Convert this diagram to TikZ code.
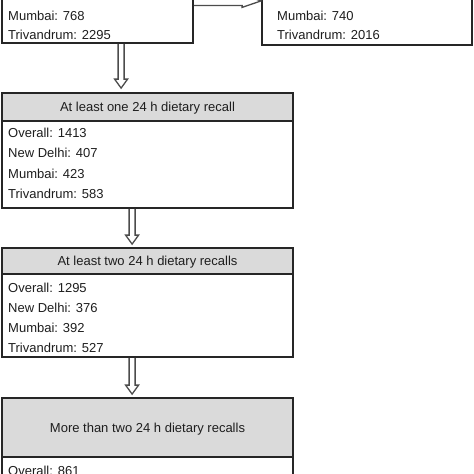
\documentclass[tikz,border=0pt]{standalone}
\usepackage{fontspec}
\setmainfont{Liberation Sans}
\usepackage{xcolor}
\usetikzlibrary{calc,positioning}

\definecolor{edgegray}{HTML}{262626}
\definecolor{headgray}{HTML}{DADADA}
\definecolor{txtgray}{HTML}{1E1E1E}

\newcommand{\fsz}{\fontsize{13}{15}\selectfont}

% hollow block arrow pointing down: #1 start on box edge, #2 tip
\newcommand{\flowdown}[2]{%
  \draw[flowarrow] ($(#1)+(-3pt,0)$) -- ($(#2)+(-3pt,9pt)$)
    -- ($(#2)+(-6.5pt,9pt)$) -- (#2) -- ($(#2)+(6.5pt,9pt)$)
    -- ($(#2)+(3pt,9pt)$) -- ($(#1)+(3pt,0)$);}
% same, pointing right
\newcommand{\flowright}[2]{%
  \draw[flowarrow] ($(#1)+(0,4.5pt)$) -- ($(#2)+(-19pt,4.5pt)$)
    -- ($(#2)+(-19pt,6.5pt)$) -- (#2) -- ($(#2)+(-19pt,-6.5pt)$)
    -- ($(#2)+(-19pt,-4.5pt)$) -- ($(#1)+(0,-4.5pt)$);}

\begin{document}
\begin{tikzpicture}[
    x=1pt, y=1pt,
    panel/.style={draw=edgegray, line width=1.8pt, fill=white, inner sep=0pt},
    hdr/.style={draw=edgegray, line width=1.8pt, fill=headgray, inner sep=0pt,
                minimum width=291pt, text height=9pt, text depth=0pt,
                font=\fsz, text=txtgray},
    entry/.style={anchor=base west, inner sep=0pt, font=\fsz, text=txtgray},
    flowarrow/.style={draw=black!70, line width=1.3pt, line join=miter}
]
\useasboundingbox (0,0) rectangle (474,-474);

% Top left box (cut at the top)
\node[panel, minimum width=191pt, minimum height=83pt] (boxA) at (97.5,-1.5) {};
\node[entry] (mumA) at (8,-20.7) {Mumbai: 768};
\node[entry] (triA) at (8,-39.3) {Trivandrum: 2295};

% Top right box (cut at the top)
\node[panel, minimum width=210pt, minimum height=85pt] (boxB) at (367,-2.5) {};
\node[entry] (mumB) at (277,-20.7) {Mumbai: 740};
\node[entry] (triB) at (277,-39.2) {Trivandrum: 2016};

% At least one recall
\node[panel, minimum width=291pt, minimum height=115pt] (boxC) at (147.5,-150.5) {};
\node[hdr, minimum height=28pt, anchor=north] (hdrC) at (boxC.north) {At least one 24 h dietary recall};
\node[entry] (allC) at (8,-137.0) {Overall: 1413};
\node[entry] (delC) at (8,-157.6) {New Delhi: 407};
\node[entry] (mumC) at (8,-178.2) {Mumbai: 423};
\node[entry] (triC) at (8,-198.8) {Trivandrum: 583};

% At least two recalls
\node[panel, minimum width=291pt, minimum height=109pt] (boxD) at (147.5,-302.5) {};
\node[hdr, minimum height=26pt, anchor=north] (hdrD) at (boxD.north) {At least two 24 h dietary recalls};
\node[entry] (allD) at (8,-292) {Overall: 1295};
\node[entry] (delD) at (8,-312) {New Delhi: 376};
\node[entry] (mumD) at (8,-332) {Mumbai: 392};
\node[entry] (triD) at (8,-352) {Trivandrum: 527};

% More than two recalls (cut at the bottom)
\node[panel, minimum width=291pt, minimum height=122pt] (boxE) at (147.5,-459) {};
\node[hdr, minimum height=59pt, anchor=north] (hdrE) at (boxE.north) {More than two 24 h dietary recalls};
\node[entry] (allE) at (8,-475) {Overall: 861};

% Block arrows
\coordinate (a0s) at ($(boxA.south east)+(0,43)$);
\coordinate (a0t) at ($(boxB.south west)+(0,45)$);
\flowright{a0s}{a0t}
\coordinate (a1s) at ($(boxA.south west)+(120,0)$);
\coordinate (a1t) at ($(boxC.north west)+(120,4)$);
\flowdown{a1s}{a1t}
\coordinate (a2s) at ($(boxC.south west)+(131,0)$);
\coordinate (a2t) at ($(boxD.north west)+(131,3)$);
\flowdown{a2s}{a2t}
\coordinate (a3s) at ($(boxD.south west)+(131,0)$);
\coordinate (a3t) at ($(boxE.north west)+(131,3)$);
\flowdown{a3s}{a3t}
\end{tikzpicture}
\end{document}
